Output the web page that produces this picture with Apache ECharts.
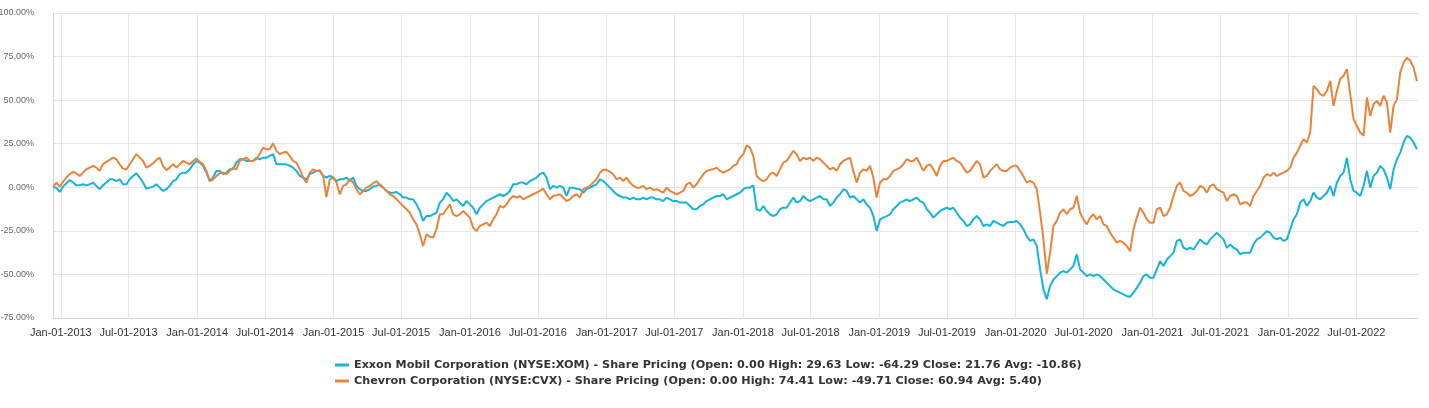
<!DOCTYPE html>
<html><head><meta charset="utf-8">
<script src="https://cdn.jsdelivr.net/npm/echarts@6/dist/echarts.min.js"></script>
<style>html,body{margin:0;padding:0;background:#fff}#c{width:1429px;height:408px}</style>
</head><body><div id="c"></div>
<script>
// x range and sampling of the traced series (one point about every 9 days)
const startDate = [2012, 11, 11];
const endDate = [2022, 11, 13];
const sampleStepDays = 8.927;
const tickDates = ['2013-01-01','2013-07-01','2014-01-01','2014-07-01','2015-01-01','2015-07-01','2016-01-01','2016-07-01','2017-01-01','2017-07-01','2018-01-01','2018-07-01','2019-01-01','2019-07-01','2020-01-01','2020-07-01','2021-01-01','2021-07-01','2022-01-01','2022-07-01'];
const monthNames = ['Jan','Feb','Mar','Apr','May','Jun','Jul','Aug','Sep','Oct','Nov','Dec'];
const yMin = -75, yMax = 100, yStep = 25;

const seriesNames = [
  'Exxon Mobil Corporation (NYSE:XOM) - Share Pricing (Open: 0.00 High: 29.63 Low: -64.29 Close: 21.76 Avg: -10.86)',
  'Chevron Corporation (NYSE:CVX) - Share Pricing (Open: 0.00 High: 74.41 Low: -49.71 Close: 60.94 Avg: 5.40)'
];

// Exxon Mobil, % change (Dec 2012 - mid 2016)
const xomA = [0.0,-0.2,-2.7,0.4,2.3,4.2,2.7,1.1,1.1,1.7,
1.1,1.7,2.7,0.8,-1.1,1.1,2.7,4.6,4.6,3.6,
4.6,1.7,1.7,4.6,6.5,8.0,5.6,2.7,-0.8,-0.2,
0.4,1.7,-0.2,-2.1,-1.1,0.8,3.6,4.6,7.5,8.4,
8.4,10.3,13.2,15.1,14.2,12.3,8.4,3.6,5.6,9.4,
9.4,7.5,8.4,10.3,10.3,14.2,16.1,16.1,15.1,15.1,
15.1,17.0,16.1,17.0,17.0,18.0,19.0,13.2,13.2,13.2,
13.2,12.3,11.3,9.4,6.5,5.6,4.6,7.5,8.4,9.4,
9.4,6.5,5.6,6.5,5.6,3.6,4.6,4.6,5.6,3.6,
5.6,0.8,-1.1,-2.1,-2.1,-1.1,0.4,0.8,1.7,-0.2,
-2.1,-3.1,-3.1,-2.7,-4.0,-5.9,-5.9,-6.9,-6.9,-9.8,
-13.6,-19.3,-16.5,-16.5,-15.5,-14.6,-8.8,-6.9,-3.1,-5.0,
-7.9,-6.9,-8.8,-10.7,-7.9,-9.8,-11.7,-15.5,-11.7,-9.8,
-7.9,-6.9,-5.9,-5.0,-4.0,-5.0,-4.0];
// Exxon Mobil (mid 2016 - mid 2019)
const xomB = [-2.1,1.7,1.7,2.7,2.7,1.7,3.6,4.6,
5.6,7.5,8.4,5.6,-1.1,0.8,-0.2,0.8,-0.2,-5.0,
-0.2,-0.2,-0.8,-1.1,-3.1,-1.1,-0.2,0.8,1.7,4.6,
3.6,1.7,-0.2,-2.1,-4.0,-5.0,-5.9,-5.9,-6.9,-5.9,
-6.9,-6.9,-5.9,-6.9,-5.9,-5.9,-6.9,-6.9,-7.9,-5.9,
-6.9,-7.9,-7.9,-8.8,-8.8,-8.8,-10.7,-12.6,-12.6,-10.7,
-9.8,-7.9,-6.9,-5.9,-5.0,-5.0,-4.0,-6.9,-5.9,-5.0,
-4.0,-3.1,-1.1,-0.2,-0.2,1.1,-12.6,-13.6,-10.7,-13.6,
-15.5,-16.5,-15.5,-12.6,-11.7,-11.7,-8.8,-5.9,-8.8,-7.9,
-5.0,-6.9,-7.9,-6.9,-5.9,-5.0,-6.9,-6.9,-10.7,-8.8,
-5.9,-4.0,-1.1,-2.1,-5.9,-5.0,-6.9,-8.8,-6.9,-9.8,
-11.7,-16.5,-25.1,-18.4,-17.4,-16.5,-15.5,-12.6,-10.7,-8.8,
-7.9,-6.9,-7.9,-6.9,-5.9,-7.9,-8.8,-12.6,-14.6,-17.4,
-15.5,-13.6,-12.6,-11.7,-12.6,-11.7,-14.6];
// Exxon Mobil (mid 2019 - Dec 2022)
const xomC = [-17.4,-19.3,-22.2,-21.3,-18.4,-16.5,-18.4,-22.2,
-21.3,-22.2,-19.3,-20.3,-21.3,-22.2,-20.3,-19.9,-19.9,-19.3,
-21.3,-24.1,-28.0,-30.8,-29.9,-33.7,-47.1,-58.6,-64.2,-56.7,
-52.9,-51.0,-49.0,-48.1,-49.0,-47.1,-45.2,-38.5,-47.1,-49.0,
-51.0,-50.0,-51.0,-50.0,-51.0,-52.9,-54.8,-56.7,-58.6,-59.6,
-60.5,-61.5,-62.5,-62.8,-60.5,-57.7,-54.8,-51.0,-50.0,-51.9,
-51.9,-47.1,-42.3,-45.2,-41.4,-39.5,-37.5,-30.8,-29.9,-34.7,
-35.6,-34.7,-35.6,-32.8,-29.9,-31.8,-32.8,-29.9,-28.0,-26.1,
-28.0,-29.9,-34.7,-32.8,-34.7,-35.6,-38.5,-37.5,-37.5,-37.5,
-32.8,-29.9,-28.9,-27.0,-25.1,-26.1,-28.9,-29.9,-28.9,-30.8,
-29.9,-24.1,-18.4,-15.5,-8.8,-6.9,-10.7,-7.9,-3.1,-5.9,
-6.9,-5.0,-3.1,0.8,-5.0,2.7,6.5,8.4,17.0,4.6,
-2.1,-3.1,-5.0,0.8,9.4,-0.2,6.5,8.4,12.3,10.3,
5.6,-1.1,10.3,16.1,19.9,25.7,29.5,28.5,25.7,21.8];

// Chevron, % change (Dec 2012 - mid 2016)
const cvxA = [0.0,2.7,0.4,3.1,5.6,7.5,8.8,8.0,6.5,8.4,
10.3,11.3,12.3,11.3,9.4,13.2,14.6,15.7,17.0,16.1,
13.2,10.7,10.3,13.2,16.1,19.0,17.0,15.1,11.3,12.3,
13.8,15.7,17.0,12.3,9.8,11.3,13.2,11.3,13.2,15.1,
14.2,13.2,15.1,16.5,14.6,13.2,9.4,3.6,4.6,6.5,
8.0,8.4,7.5,9.4,11.3,10.3,15.1,16.1,17.0,15.1,
15.1,16.1,19.0,22.8,21.8,21.8,25.3,20.9,19.0,19.9,
20.3,18.0,15.1,14.2,10.3,5.6,2.7,8.4,10.3,9.4,
9.8,6.5,-5.6,4.6,5.6,2.7,-4.0,0.8,1.7,4.6,
2.7,-1.1,-4.0,-2.1,-0.2,0.8,2.3,3.6,1.1,-0.2,
-2.1,-4.0,-5.0,-6.9,-8.8,-10.7,-12.6,-14.6,-18.4,-21.3,
-27.0,-33.7,-27.0,-28.4,-28.9,-24.1,-15.5,-15.5,-12.6,-9.8,
-15.5,-16.5,-15.5,-13.6,-15.5,-17.4,-23.2,-25.1,-22.2,-21.3,
-20.3,-22.2,-18.4,-15.5,-10.7,-11.7,-9.8];
// Chevron (mid 2016 - mid 2019)
const cvxB = [-6.9,-5.0,-5.9,-5.0,-6.9,-5.9,-5.0,-4.0,
-3.1,-2.1,-0.8,-4.0,-6.9,-5.0,-4.6,-4.0,-5.9,-7.9,
-6.9,-5.0,-4.0,-5.9,-1.1,-0.2,0.8,2.7,4.6,8.4,
10.0,10.0,8.8,7.5,4.6,5.6,3.6,5.6,2.7,0.8,
-0.2,-0.2,0.8,-1.1,-0.2,-1.5,-1.1,-2.1,-3.1,-0.2,
-2.1,-3.1,-4.0,-3.1,-2.1,1.7,2.7,-0.2,1.7,4.6,
7.5,9.4,10.0,10.3,11.3,9.4,8.4,9.4,10.3,12.3,
13.2,17.0,19.0,24.1,22.8,18.0,6.5,4.6,3.6,4.6,
7.5,8.4,6.5,10.3,14.2,15.1,18.0,20.9,19.0,15.1,
17.0,16.1,17.0,15.1,17.0,16.1,14.2,12.3,10.3,11.3,
9.4,13.2,15.1,16.1,17.0,9.4,2.7,8.4,10.3,9.4,
12.3,5.6,-5.9,2.7,4.6,4.6,6.5,9.4,10.3,11.3,
13.2,16.1,15.1,15.1,17.0,13.2,9.4,12.3,13.2,10.3,
6.5,12.3,15.1,15.1,16.1,17.0,15.1];
// Chevron (mid 2019 - Dec 2022)
const cvxC = [14.2,11.3,8.4,9.4,12.3,15.1,13.2,5.6,
6.5,9.4,11.3,13.2,10.3,9.4,9.4,11.3,12.3,12.3,
9.4,6.5,2.7,3.6,2.7,-1.1,-14.6,-29.9,-49.6,-37.5,
-22.2,-19.3,-14.6,-12.6,-15.5,-12.6,-11.7,-5.0,-14.6,-18.4,
-21.3,-17.4,-15.5,-18.4,-16.5,-21.3,-22.2,-26.1,-28.9,-31.8,
-30.8,-31.8,-33.7,-36.6,-24.1,-17.4,-11.7,-14.6,-18.4,-20.3,
-20.3,-12.6,-11.7,-16.5,-15.5,-11.7,-5.0,0.8,2.7,-2.1,
-3.1,-5.0,-4.0,-2.1,0.8,-0.2,-3.1,0.8,1.7,-1.1,
-2.1,-3.1,-7.9,-5.0,-4.0,-5.0,-9.8,-8.8,-8.8,-10.7,
-5.0,-2.1,0.8,5.6,7.5,6.5,8.4,6.5,7.5,8.4,
9.4,11.3,17.0,19.9,23.8,27.6,25.7,31.4,58.2,56.3,
53.4,52.5,55.4,61.1,46.7,55.4,62.1,64.0,67.8,53.4,
39.1,35.2,31.4,29.5,51.5,41.0,47.7,49.6,46.7,52.5,
48.7,31.4,46.7,50.6,65.9,71.6,74.4,72.6,68.8,60.9];

const xomValues = xomA.concat(xomB, xomC);
const cvxValues = cvxA.concat(cvxB, cvxC);

const t0 = new Date(startDate[0], startDate[1], startDate[2]).getTime();
const tEnd = new Date(endDate[0], endDate[1], endDate[2]).getTime();
const dayMs = 86400000;
const toPairs = vals => vals.map((v, i) => [t0 + Math.round(i * sampleStepDays * dayMs), v]);
const tickTimes = tickDates.map(s => { const p = s.split('-').map(Number); return new Date(p[0], p[1]-1, p[2]).getTime(); });
const pad = n => (n < 10 ? '0' : '') + n;
const fmtDate = v => { const d = new Date(v); return monthNames[d.getMonth()] + '-' + pad(d.getDate()) + '-' + d.getFullYear(); };

const chart = echarts.init(document.getElementById('c'), null, {renderer: 'canvas'});
chart.setOption({
  animation: false,
  backgroundColor: '#ffffff',
  color: ['#14b5d9', '#e9843a'],
  grid: {left: 53, right: 11, top: 13, bottom: 90, containLabel: false, outerBoundsMode: 'none'},
  legend: {
    orient: 'vertical', left: 335, top: 359, padding: 0, itemGap: 4,
    itemWidth: 14, itemHeight: 3, icon: 'rect',
    textStyle: {fontFamily: 'DejaVu Sans', fontSize: 11.2, lineHeight: 12, color: '#333333', fontWeight: 'bold'},
    data: seriesNames
  },
  xAxis: {
    type: 'value', min: t0, max: tEnd, scale: true,
    axisLine: {show: true, onZero: false, lineStyle: {color: '#ccd6eb', width: 1}},
    axisTick: {show: false, customValues: tickTimes},
    axisLabel: {customValues: tickTimes, formatter: fmtDate, fontFamily: 'Liberation Sans', fontSize: 11, color: '#333333', margin: 9, hideOverlap: false, showMinLabel: true, showMaxLabel: true},
    splitLine: {show: true, lineStyle: {color: '#e6e6e6', width: 1}}
  },
  yAxis: {
    type: 'value', min: yMin, max: yMax, interval: yStep,
    axisLine: {show: true, lineStyle: {color: '#ccd6eb', width: 1}},
    axisTick: {show: false},
    axisLabel: {formatter: v => v.toFixed(2) + '%', fontFamily: 'Liberation Sans', fontSize: 9, color: '#666666', margin: 19, padding: [0, 0, 5, 0]},
    splitLine: {show: true, lineStyle: {color: '#e6e6e6', width: 1}}
  },
  series: [
    {name: seriesNames[0], type: 'line', data: toPairs(xomValues), showSymbol: false, symbol: 'none', lineStyle: {width: 2}, emphasis: {disabled: true}},
    {name: seriesNames[1], type: 'line', data: toPairs(cvxValues), showSymbol: false, symbol: 'none', lineStyle: {width: 2}, emphasis: {disabled: true}}
  ]
});
</script>
</body></html>
